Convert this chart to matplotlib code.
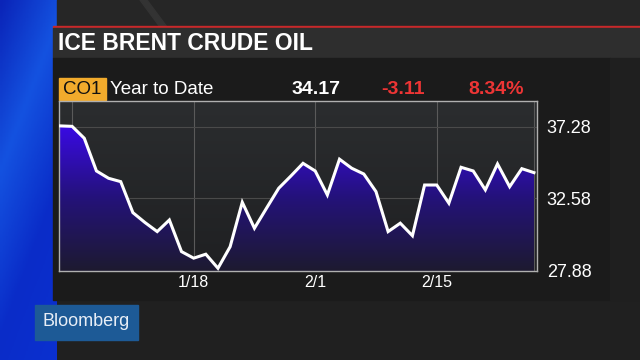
import numpy as np
import matplotlib
matplotlib.use("Agg")
import matplotlib.pyplot as plt
from matplotlib.colors import LinearSegmentedColormap
from matplotlib.patches import Rectangle, Polygon

plt.rcParams['font.family'] = ['Liberation Sans', 'DejaVu Sans']

# trading-day closes, 12/31 .. 2/26
prices = [37.33, 37.30, 36.52, 34.38, 33.90, 33.68, 31.65, 31.00, 30.41, 31.17,
          29.10, 28.67, 28.93, 28.01, 29.42, 32.33, 30.63, 31.95, 33.25, 34.05,
          34.88, 34.38, 32.81, 35.15, 34.56, 34.18, 33.03, 30.41, 30.96, 30.14,
          33.46, 33.46, 32.27, 34.62, 34.38, 33.14, 34.84, 33.35, 34.53, 34.27]
date_ticks = [11, 21, 31]
date_labels = ["1/18", "2/1", "2/15"]
grid_x = [1, 11, 21, 31, 39]
price_ticks = [27.88, 32.58, 37.28]

title = "ICE BRENT CRUDE OIL"
ticker = "CO1"
period = "Year to Date"
last, change, pct = "34.17", "-3.11", "8.34%"

W, H = 640, 360
fig = plt.figure(figsize=(6.4, 3.6), dpi=100)
fig.patch.set_facecolor("#1e1e1e")

# background layer in pixel coords
bg = fig.add_axes([0, 0, 1, 1])
bg.set_xlim(0, W)
bg.set_ylim(H, 0)
bg.axis("off")
bg.add_patch(Rectangle((0, 0), W, H, color="#202020", zorder=0))
# blue strip on the left
blue = LinearSegmentedColormap.from_list("b", ["#0a24b8", "#1452e0", "#0a2cc8", "#0b30d0"])
g = np.linspace(0, 1, 200).reshape(-1, 1) + np.linspace(0, 0.4, 20).reshape(1, -1)
bg.imshow(g, extent=[0, 57, H, 0], cmap=blue, aspect="auto", zorder=1)
# top strip
bg.add_patch(Rectangle((57, 0), W - 57, 27, color="#262626", zorder=1))
bg.add_patch(Polygon([[140, 0], [147, 0], [167, 27], [160, 27]], color="#333333", zorder=1))
# red line and title bar
bg.add_patch(Rectangle((53, 26), W - 53, 2.2, color="#c8282a", zorder=2))
bg.add_patch(Rectangle((53, 28), W - 53, 30, color="#2e2e2e", zorder=2))
# main panel
bg.add_patch(Rectangle((53, 58), 557, 242, color="#1b1b1b", zorder=2))
bg.add_patch(Rectangle((610, 58), 30, 242, color="#1f1f1f", zorder=2))

bg.text(58, 43.5, title, color="white", fontsize=16.5, fontweight="bold",
        va="center", ha="left", zorder=5)

bg.add_patch(Rectangle((59, 78), 46.5, 22, color="#f2ab2c", zorder=5))
bg.text(82, 89.5, ticker, color="#111111", fontsize=13.5, va="center", ha="center", zorder=6)
bg.text(110, 89.5, period, color="white", fontsize=13.5, va="center", ha="left", zorder=6)
bg.text(341, 89.5, last, color="white", fontsize=14, fontweight="bold", va="center", ha="right", zorder=6)
bg.text(425, 89.5, change, color="#ee3535", fontsize=14, fontweight="bold", va="center", ha="right", zorder=6)
bg.text(524, 89.5, pct, color="#ee3535", fontsize=14, fontweight="bold", va="center", ha="right", zorder=6)

bg.add_patch(Rectangle((35, 305), 103, 35, color="#1d5a96", zorder=5))
bg.text(86.5, 322, "Bloomberg", color="#e8eef6", fontsize=13, va="center", ha="center", zorder=6)

# chart axes
ax = fig.add_axes([59 / W, 1 - 271 / H, 478 / W, 170 / H])
x = np.arange(len(prices))
y = np.array(prices)
xlo, xhi = -0.08, 39.25
ylo, yhi = 27.83, 38.96
ax.set_xlim(xlo, xhi)
ax.set_ylim(ylo, yhi)

# plot background gradient
pbg = LinearSegmentedColormap.from_list("p", ["#1f2022", "#2b2d2f"])
ax.imshow(np.linspace(0, 1, 100).reshape(-1, 1), extent=[xlo, xhi, ylo, yhi],
          cmap=pbg, origin="lower", aspect="auto", zorder=0)

for gx in grid_x:
    ax.axvline(gx, color="#5a5a5a", lw=0.8, zorder=1)
for gy in price_ticks[1:]:
    ax.axhline(gy, color="#4a4a4a", lw=0.8, zorder=1)

# gradient fill under the line
fill = ax.fill_between(x, y, ylo, color="none", zorder=2)
fcm = LinearSegmentedColormap.from_list("f", ["#1d1a30", "#24127a", "#3a0ae6"])
im = ax.imshow(np.linspace(0, 1, 200).reshape(-1, 1), extent=[xlo, xhi, ylo, 37.4],
               cmap=fcm, origin="lower", aspect="auto", zorder=2)
im.set_clip_path(fill.get_paths()[0], transform=ax.transData)
ax.set_xlim(xlo, xhi)
ax.set_ylim(ylo, yhi)

ax.plot(x, y, color="white", lw=2.2, solid_joinstyle="miter", zorder=3)

ax.set_xticks(date_ticks)
ax.set_xticklabels(date_labels)
ax.yaxis.tick_right()
ax.set_yticks(price_ticks)
ax.set_yticklabels([f"{v:.2f}" for v in price_ticks])
ax.tick_params(length=0, colors="white", labelsize=11.5)
ax.tick_params(axis="x", pad=3)
ax.tick_params(axis="y", pad=7, labelsize=13)
for s in ax.spines.values():
    s.set_color("#b0b0b0")
    s.set_linewidth(1.0)

fig.savefig("out.png", dpi=100, facecolor=fig.get_facecolor())
